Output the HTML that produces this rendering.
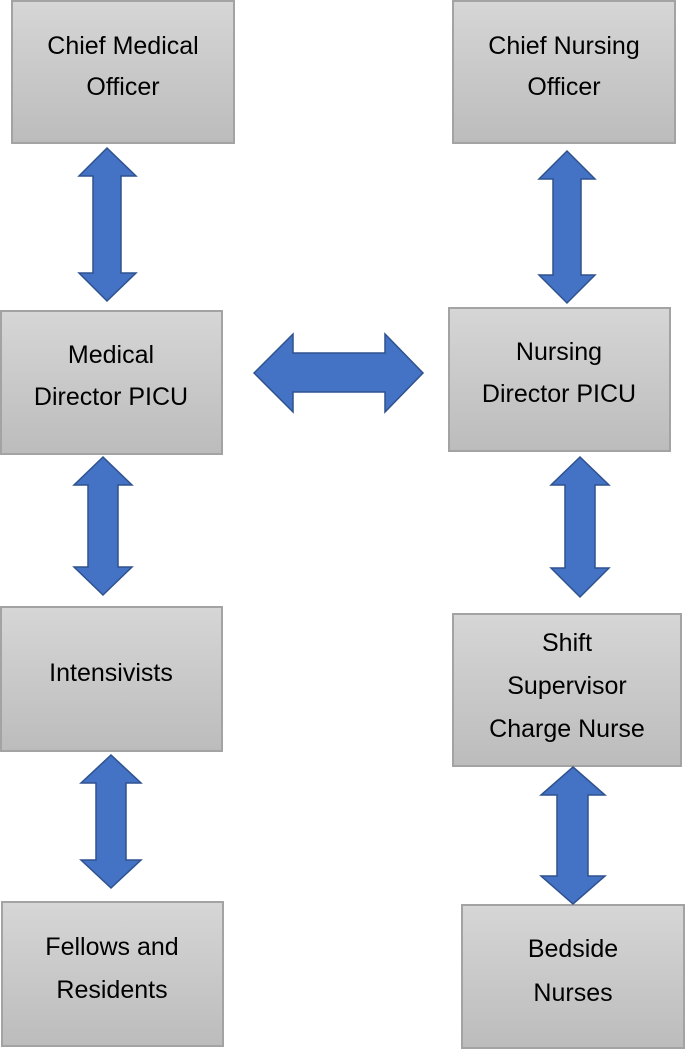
<!DOCTYPE html>
<html><head><meta charset="utf-8"><style>
html,body{margin:0;padding:0;background:#fff;}
svg{display:block;}
text{font-family:"Liberation Sans",sans-serif;font-size:25px;fill:#000;text-anchor:middle;}
</style></head><body>
<svg width="685" height="1050" viewBox="0 0 685 1050" xmlns="http://www.w3.org/2000/svg">
<defs>
<linearGradient id="g" x1="0" y1="0" x2="0" y2="1">
<stop offset="0" stop-color="#d6d6d6"/><stop offset="1" stop-color="#bcbcbc"/>
</linearGradient>
</defs>
<g fill="url(#g)" stroke="#a3a3a3" stroke-width="2">
<rect x="12" y="1" width="222" height="142"/>
<rect x="453" y="1" width="222" height="142"/>
<rect x="1" y="311" width="221" height="143"/>
<rect x="449" y="308" width="221" height="143"/>
<rect x="1" y="607" width="221" height="144"/>
<rect x="453" y="614" width="228" height="152"/>
<rect x="2" y="902" width="221" height="144"/>
<rect x="462" y="905" width="222" height="143"/>
</g>
<g fill="#4472c4" stroke="#2f528f" stroke-width="1.5">
<!-- vertical arrows: cx, half head 28, half shaft 15, head 28 -->
<polygon points="107,148 136,176 121,176 121,273 136,273 107,301 79,273 93,273 93,176 79,176"/>
<polygon points="567,151 595,179 581,179 581,275 595,275 567,303 539,275 553,275 553,179 539,179"/>
<polygon points="103,457 132,485 118,485 118,567 132,567 103,595 74,567 88,567 88,485 74,485"/>
<polygon points="580,457 609,485 595,485 595,568 609,568 580,597 551,568 565,568 565,485 551,485"/>
<polygon points="111,755 141,783 126,783 126,860 141,860 111,888 81,860 96,860 96,783 81,783"/>
<polygon points="573,767 605,795 588,795 588,876 605,876 573,904 541,876 557,876 557,795 541,795"/>
<!-- horizontal -->
<polygon points="254,373 293,334 293,353 385,353 385,334 423,373 385,412 385,392 293,392 293,412"/>
</g>
<text x="123" y="54">Chief Medical</text><text x="123" y="95">Officer</text>
<text x="564" y="54">Chief Nursing</text><text x="564" y="95">Officer</text>
<text x="111" y="363">Medical</text><text x="111" y="405">Director PICU</text>
<text x="559" y="360">Nursing</text><text x="559" y="402">Director PICU</text>
<text x="111" y="681">Intensivists</text>
<text x="567" y="651">Shift</text><text x="567" y="694">Supervisor</text><text x="567" y="737">Charge Nurse</text>
<text x="112" y="955">Fellows and</text><text x="112" y="998">Residents</text>
<text x="573" y="957">Bedside</text><text x="573" y="1001">Nurses</text>
</svg>
</body></html>
